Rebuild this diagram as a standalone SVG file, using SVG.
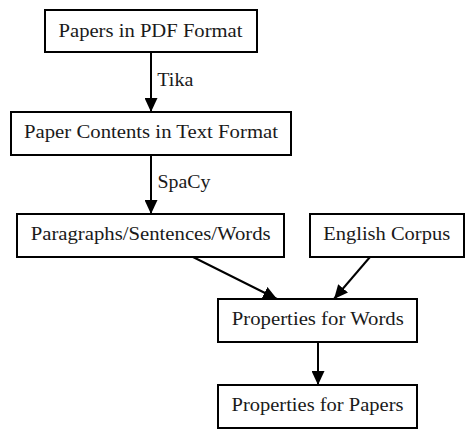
<svg xmlns="http://www.w3.org/2000/svg" width="474" height="437" viewBox="0 0 474 437">
<style>
.box{fill:#fff;stroke:#000;stroke-width:2}
.t{font-family:"Liberation Serif",serif;font-size:18px;fill:#1a1a1a;text-anchor:middle}
.e{stroke:#000;stroke-width:2;fill:none}
</style>
<defs>
<marker id="ah" markerWidth="14" markerHeight="13" viewBox="0 0 14 13" refX="14" refY="6.5" orient="auto" markerUnits="userSpaceOnUse">
<path d="M0,0 L14,6.5 L0,13 Z" fill="#000"/>
</marker>
</defs>
<rect width="474" height="437" fill="#fff"/>
<g id="edges">
<line class="e" x1="151" y1="52" x2="151" y2="112" marker-end="url(#ah)"/>
<line class="e" x1="151" y1="155" x2="151" y2="214" marker-end="url(#ah)"/>
<line class="e" x1="193" y1="257" x2="277" y2="299" marker-end="url(#ah)"/>
<line class="e" x1="370" y1="257" x2="334" y2="299" marker-end="url(#ah)"/>
<line class="e" x1="318" y1="342" x2="318" y2="385" marker-end="url(#ah)"/>
<text class="t" x="175.3" y="86" textLength="36" lengthAdjust="spacingAndGlyphs">Tika</text>
<text class="t" x="184" y="188" textLength="53" lengthAdjust="spacingAndGlyphs">SpaCy</text>
</g>
<g id="n1"><rect class="box" x="45" y="10" width="212" height="42"/><text class="t" x="150.5" y="36.5" textLength="184" lengthAdjust="spacingAndGlyphs">Papers in PDF Format</text></g>
<g id="n2"><rect class="box" x="11" y="112" width="280" height="43"/><text class="t" x="151" y="138" textLength="254" lengthAdjust="spacingAndGlyphs">Paper Contents in Text Format</text></g>
<g id="n3"><rect class="box" x="17" y="214" width="267" height="43"/><text class="t" x="150.7" y="240" textLength="240" lengthAdjust="spacingAndGlyphs">Paragraphs/Sentences/Words</text></g>
<g id="n4"><rect class="box" x="310" y="214" width="154" height="43"/><text class="t" x="386.7" y="240" textLength="127" lengthAdjust="spacingAndGlyphs">English Corpus</text></g>
<g id="n5"><rect class="box" x="218" y="299" width="199" height="43"/><text class="t" x="317.8" y="325" textLength="172" lengthAdjust="spacingAndGlyphs">Properties for Words</text></g>
<g id="n6"><rect class="box" x="218" y="385" width="199" height="43"/><text class="t" x="317.5" y="411" textLength="172" lengthAdjust="spacingAndGlyphs">Properties for Papers</text></g>
</svg>
